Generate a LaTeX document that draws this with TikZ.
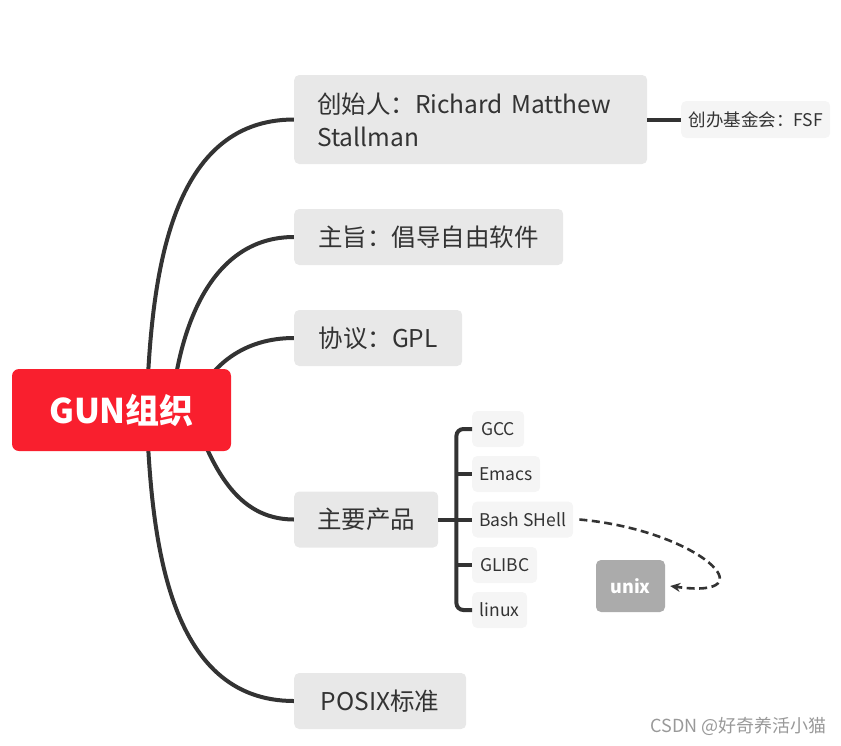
\documentclass[tikz,border=0pt]{standalone}
\usepackage{fontspec}
\setmainfont{Noto Sans CJK SC}
\usetikzlibrary{arrows.meta,positioning,backgrounds}
\definecolor{gunred}{RGB}{249,31,46}
\definecolor{topicgray}{RGB}{232,232,232}
\definecolor{leafgray}{RGB}{245,245,245}
\definecolor{linkdark}{RGB}{51,51,51}
\definecolor{unixgray}{RGB}{171,171,171}

\begin{document}
\begin{tikzpicture}[x=1pt, y=-1pt,
  every node/.style={inner sep=0pt},
  topic/.style={fill=topicgray, rounded corners=5pt, anchor=west,
    minimum height=56pt, text=linkdark, font=\fontsize{24.5}{33}\selectfont},
  leaf/.style={fill=leafgray, rounded corners=5pt, anchor=west,
    minimum height=36pt, text=linkdark, font=\fontsize{17.5}{20}\selectfont},
  branch/.style={draw=linkdark, line width=4pt},
]
\useasboundingbox (0,0) rectangle (841,745);

%% Root
\node[fill=gunred, rounded corners=7pt, minimum width=219pt, minimum height=82pt,
  text=white, font=\fontsize{34}{34}\selectfont\bfseries] (root) at (121.5,410) {GUN组织};

%% Main topics
\node[topic, text width=307pt, inner xsep=23pt, minimum height=89pt, align=left] (founder) at (294,119.5)
  {创始人：Richard Matthew\\Stallman};
\node[topic, minimum width=269pt] (aim) at (294,237) {主旨：倡导自由软件};
\node[topic, minimum width=168pt] (license) at (294,338) {协议：GPL};
\node[topic, minimum width=144pt] (product) at (294,519.5) {主要产品};
\node[topic, minimum width=172pt] (posix) at (294,701) {POSIX标准};

%% Founder detail
\node[leaf, minimum width=149pt, minimum height=37pt] (fsf) at (681,119.5) {创办基金会：FSF};
\draw[branch] (founder.east) -- (fsf.west);

%% Products
\foreach \name/\lab/\y/\w in {
  gcc/GCC/429/52,
  emacs/Emacs/474/68,
  bash/Bash SHell/519.5/101,
  glibc/GLIBC/565/65,
  linux/linux/610/55%
}{
  \node[leaf, minimum width=\w pt] (\name) at (472,\y) {\lab};
}
\coordinate[right=18pt of product.east] (fork);
\draw[branch] (product.east) -- (fork);
\draw[branch, rounded corners=7pt] (gcc.west) -| (fork) |- (linux.west);
\foreach \name in {emacs,bash,glibc}
  \draw[branch] (fork |- \name.west) -- (\name.west);

%% unix link
\node[fill=unixgray, rounded corners=5pt, minimum width=69pt, minimum height=52pt,
  text=white, font=\fontsize{18}{18}\selectfont\bfseries] (unix) at (630.5,586) {unix};
\draw[linkdark, line width=2.6pt, dash pattern=on 8pt off 4.5pt, -{Stealth[length=10pt,width=9pt]}]
  ([xshift=6pt]bash.east) .. controls +(121,11) and +(100,14) .. ([xshift=5pt]unix.east);

%% Root connectors
\begin{scope}[on background layer]
  \draw[branch] ([xshift=25pt]root.center) to[out=88,in=180] (founder.west);
  \draw[branch] ([xshift=50pt]root.center) to[out=85,in=180] (aim.west);
  \draw[branch] ([xshift=70pt]root.center) to[out=70,in=180] (license.west);
  \draw[branch] ([xshift=70pt]root.center) to[out=-70,in=180] (product.west);
  \draw[branch] ([xshift=25pt]root.center) to[out=-88,in=180] (posix.west);
\end{scope}

%% Watermark
\node[anchor=east, text=gray!80, font=\fontsize{18}{18}\selectfont] (mark) at (827,726)
  {CSDN @好奇养活小猫};
\end{tikzpicture}
\end{document}
